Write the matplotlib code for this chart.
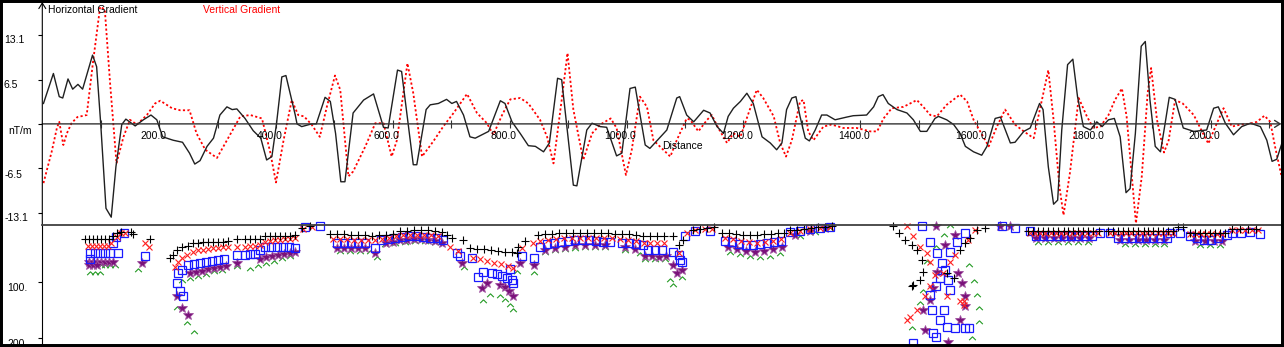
import numpy as np
import matplotlib.pyplot as plt
from matplotlib.path import Path
from matplotlib.patches import Rectangle

plt.rcParams['font.family'] = ['Liberation Sans', 'DejaVu Sans']

# gradient profiles: (distance, nT/m)
hg = [(2,3.0),(19,7.4),(29,4.0),(35,3.8),(44,6.6),(52,5.1),(61,5.8),(69,5.1),(86,10.1),(93,8.4),(100,0.0),(109,-12.4),(118,-13.7),(126,-6.3),(136,-0.1),(143,0.7),(159,-0.3),(173,0.6),(186,1.3),(196,0.6),(206,-1.9),(224,-2.4),(240,-2.7),(252,-4.3),(261,-5.9),(270,-5.4),(282,-3.3),(293,-2.1),(304,1.3),(316,2.5),(325,2.1),(333,2.2),(347,0.8),(361,-1.0),(374,-2.1),(384,-5.3),(393,-4.8),(401,0.1),(410,6.9),(417,7.1),(433,1.3),(436,0.0),(444,-0.4),(461,0.0),(469,0.0),(484,3.9),(493,3.3),(502,-1.4),(511,-8.5),(518,-8.5),(532,1.6),(550,3.5),(567,4.4),(584,-0.5),(592,-0.6),(608,7.9),(615,7.7),(635,-6.0),(641,-6.0),(657,2.1),(664,2.8),(678,3.0),(692,3.6),(701,3.0),(709,3.3),(721,1.3),(732,-1.9),(741,-2.1),(764,-1.1),(784,3.4),(792,3.0),(804,0.3),(818,-1.4),(832,-3.2),(844,-3.3),(858,-4.1),(868,-2.8),(882,6.7),(889,6.5),(909,-9.0),(915,-9.1),(932,-0.9),(941,0.1),(955,-0.4),(966,-0.5),(983,-4.7),(992,-4.3),(1006,5.2),(1015,5.4),(1032,-3.1),(1040,-3.6),(1069,-0.9),(1086,3.8),(1091,4.0),(1103,1.3),(1115,0.3),(1132,2.0),(1143,1.6),(1155,-0.4),(1166,-1.4),(1174,1.1),(1183,2.3),(1195,3.3),(1206,4.5),(1217,3.0),(1232,-1.9),(1246,-2.8),(1257,-3.8),(1266,-2.8),(1274,2.1),(1283,3.8),(1290,4.0),(1297,1.1),(1306,-2.1),(1313,-2.5),(1323,-0.9),(1334,1.3),(1343,1.3),(1357,0.6),(1377,1.0),(1388,1.2),(1411,1.3),(1423,2.5),(1431,4.0),(1439,4.3),(1448,3.0),(1463,2.1),(1480,1.6),(1491,0.6),(1503,-1.1),(1514,-1.1),(1528,0.8),(1534,1.1),(1548,0.6),(1560,-0.1),(1571,-1.4),(1580,-3.3),(1594,-4.1),(1608,-4.6),(1617,-3.3),(1631,0.8),(1640,1.0),(1657,-2.8),(1665,-2.7),(1680,-1.1),(1691,-0.6),(1707,3.0),(1713,2.1),(1722,-6.3),(1731,-11.8),(1738,-11.2),(1745,-0.9),(1755,8.7),(1764,9.5),(1772,4.0),(1782,-0.4),(1794,-0.9),(1805,0.3),(1814,-0.4),(1825,0.6),(1835,0.8),(1845,-1.9),(1855,-10.1),(1862,-9.5),(1871,-1.4),(1881,11.4),(1888,12.1),(1896,3.5),(1905,-3.3),(1914,-4.1),(1922,0.1),(1929,3.9),(1939,3.6),(1953,-0.6),(1971,-1.1),(1993,-0.9),(2005,2.3),(2013,2.5),(2025,0.1),(2039,-1.6),(2053,-0.4),(2068,0.1),(2085,-0.4),(2096,-2.4),(2105,-5.5),(2113,-5.2),(2122,-2.8)]

vg = [(2,-8.7),(16,-4.1),(25,-0.6),(29,0.3),(36,-3.1),(42,-1.4),(50,0.1),(60,1.0),(76,1.3),(87,9.2),(99,17.2),(107,16.8),(116,6.0),(127,-5.8),(139,-1.9),(150,0.6),(162,-0.1),(179,1.3),(193,3.0),(202,3.4),(222,2.3),(236,2.0),(252,2.0),(264,-1.4),(279,-3.8),(299,-5.0),(318,-2.1),(339,1.1),(356,1.3),(376,0.8),(390,-4.1),(400,-8.6),(413,-2.4),(427,3.5),(438,1.3),(448,1.1),(461,-0.1),(475,-1.9),(487,2.5),(501,7.1),(510,5.0),(524,-7.7),(532,-7.0),(553,-3.3),(570,0.1),(584,0.1),(598,-4.8),(607,-2.4),(625,8.9),(635,4.5),(650,-4.8),(669,-2.6),(687,-0.3),(704,1.6),(727,4.4),(744,1.6),(761,0.1),(772,-1.6),(787,1.3),(801,3.6),(818,3.8),(832,3.0),(852,0.6),(864,-1.9),(875,-5.8),(889,3.5),(899,10.4),(909,2.1),(926,-5.3),(941,-1.4),(955,-0.1),(973,0.8),(983,-0.6),(999,-7.5),(1009,-3.8),(1023,4.0),(1035,2.5),(1046,-2.4),(1063,-3.8),(1075,-4.8),(1086,-2.4),(1103,0.8),(1109,0.6),(1123,-1.1),(1138,0.6),(1146,1.3),(1157,-0.6),(1172,-2.8),(1183,-1.4),(1195,-1.9),(1209,1.6),(1223,5.0),(1234,3.8),(1252,1.1),(1263,-2.8),(1273,-4.8),(1283,-2.4),(1297,3.3),(1303,3.5),(1311,-1.1),(1320,-2.4),(1337,-0.4),(1351,-0.1),(1371,-0.6),(1394,-0.6),(1417,-1.1),(1429,-1.1),(1440,0.8),(1454,2.3),(1474,2.5),(1497,3.5),(1508,2.5),(1520,1.3),(1531,1.1),(1548,2.8),(1571,4.3),(1583,3.3),(1594,0.6),(1620,-3.3),(1634,-0.4),(1648,2.1),(1665,-0.1),(1680,-1.1),(1697,-2.1),(1711,3.5),(1722,7.9),(1731,0.6),(1741,-9.2),(1748,-13.4),(1759,-7.2),(1774,3.8),(1788,1.1),(1799,-0.6),(1811,-0.4),(1825,1.3),(1836,3.5),(1848,5.2),(1856,1.1),(1865,-7.7),(1872,-14.6),(1882,-7.7),(1892,4.5),(1898,8.2),(1908,0.6),(1920,-4.2),(1928,-2.4),(1939,3.5),(1952,3.0),(1971,1.3),(1985,-1.1),(1996,-2.9),(2008,-0.4),(2022,2.3),(2036,-0.4),(2051,-0.1),(2065,0.0),(2079,0.3),(2092,1.2),(2102,0.3),(2110,-3.3),(2122,-8.0)]

# depth solutions: (distance, depth)
plus_pts = [(73,23),(80,23),(87,23),(94,23),(100,23),(107,23),(114,23),(121,18),(128,12),(135,11),(152,11),(155,14),(184,23),
            (219,58),(224,52),(230,44),(239,38),(250,36),(258,30),(267,30),(275,29),(284,29),(292,28),(301,28),(309,28),(318,27),(333,24),(347,24),(355,24),(364,24),(373,24),(381,18),(390,18),(398,18),(407,18),(415,18),(424,18),(433,17),(444,4),(458,1),
            (493,14),(504,15),(516,15),(529,16),(541,17),(553,17),(565,18),(576,17),(588,16),(600,14),(612,10),(624,9),(636,8),(649,8),(660,8),(672,9),(684,11),(693,16),(701,21),(720,25),(732,39),(744,41),(756,42),(768,44),(780,45),(792,46),(804,47),(813,48),(815,37),(827,27),(849,16),(861,15),(873,14),(885,13),(897,13),(909,13),(921,13),(933,13),(945,13),(957,13),(968,13),(980,14),(993,14),(1004,15),(1016,16),
            (1028,19),(1040,19),(1052,19),(1064,19),(1080,19),(1089,34),(1097,25),(1114,7),(1126,6),(1138,4),(1150,2),(1164,12),(1176,13),(1188,15),(1200,16),(1212,16),(1224,16),(1236,15),(1248,14),(1260,13),(1270,12),(1280,8),(1292,7),(1304,5),(1316,4),(1328,2),(1340,2),(1352,1),
            (1457,0),(1466,13),(1477,25),(1488,34),(1497,43),(1506,61),(1508,82),(1503,96),(1491,105),(1488,108),(1548,84),(1560,93),(1571,43),(1580,30),(1588,21),(1600,7),(1614,4),
            (1688,10),(1696,10),(1705,10),(1713,10),(1722,10),(1730,10),(1739,10),(1748,10),(1756,10),(1765,10),(1773,10),(1782,10),(1790,10),(1799,10),(1808,10),(1825,9),(1833,9),(1842,9),(1850,9),(1859,9),(1867,9),(1876,9),(1885,9),(1893,9),(1902,9),(1910,9),(1919,9),(1927,9),(1936,9),(1944,2),(1953,2),(1965,12),(1973,12),(1982,12),(1990,12),(1999,12),(2007,12),(2016,12),(2025,12),(2037,6),(2050,6),(2064,6),(2078,6)]

cross_pts = [(78,36),(85,36),(92,36),(98,36),(105,36),(112,36),(118,30),(128,20),(135,13),(142,12),(176,31),(182,38),
             (227,73),(233,64),(239,58),(247,52),(258,46),(267,44),(275,43),(284,41),(292,40),(301,39),(309,38),(318,37),(333,37),(347,37),(355,36),(364,36),(373,35),(381,28),(390,27),(398,26),(407,25),(415,24),(424,23),(433,21),(446,6),(461,2),
             (498,23),(510,24),(522,24),(534,25),(546,26),(558,26),(570,25),(582,24),(594,22),(606,19),(618,17),(630,16),(642,16),(654,16),(666,17),(678,18),(698,38),(712,45),(737,57),(749,60),(761,63),(773,66),(785,69),(797,72),(806,75),(821,40),(840,30),(852,27),(866,25),(880,23),(893,22),(907,21),(921,21),(934,21),(948,21),(962,21),(975,22),(989,23),(1003,25),(1016,27),(1030,30),
             (1040,31),(1052,31),(1064,31),(1089,49),(1103,13),(1117,7),(1134,6),(1146,5),(1169,21),(1182,24),(1196,27),(1210,29),(1224,30),(1237,29),(1251,27),(1264,24),(1280,12),(1297,9),(1314,6),(1331,4),(1349,2),
             (1480,0),(1491,19),(1503,37),(1514,49),(1520,64),(1528,87),(1520,108),(1511,126),(1497,150),(1486,162),(1480,168),(1542,84),(1548,126),(1554,64),(1562,52),(1571,135),(1577,135),(1577,141),(1585,25),(1597,7),
             (1690,13),(1699,13),(1708,13),(1717,13),(1726,13),(1735,13),(1744,13),(1753,13),(1762,13),(1771,13),(1780,13),(1789,13),(1798,13),(1807,13),(1828,12),(1837,12),(1846,12),(1855,12),(1864,12),(1873,12),(1882,12),(1891,12),(1900,12),(1909,12),(1918,12),(1927,12),(1936,12),(1965,15),(1974,15),(1983,15),(1992,15),(2001,15),(2010,15),(2019,15),(2037,8),(2048,8),(2059,8),(2070,8),(2081,8)]

square_pts = [(82,48),(90,48),(98,48),(107,48),(116,48),(82,59),(121,30),(126,20),(130,48),(140,12),(176,54),
              (230,102),(236,117),(241,126),(233,84),(239,79),(249,70),(260,68),(270,66),(280,64),(290,62),(301,61),(311,59),(333,52),(347,52),(355,51),(364,50),(373,43),(381,38),(391,37),(402,37),(412,37),(422,38),(433,40),(450,2),(476,1),
              (505,31),(516,31),(529,31),(541,31),(553,31),(570,40),(580,25),(592,23),(604,21),(616,20),(628,19),(640,19),(652,20),(664,21),(676,22),(686,25),(710,49),(715,54),(735,58),(746,91),(755,83),(770,84),(779,86),(787,89),(796,93),(804,96),(806,102),(801,77),(821,54),(841,58),(852,37),(864,33),(876,30),(888,28),(900,27),(912,26),(924,26),(936,26),(948,27),(960,28),(972,29),(993,30),(1004,30),(1016,32),(1028,34),
              (1037,43),(1049,43),(1061,43),(1080,46),(1089,52),(1092,61),(1095,64),(1100,19),(1117,9),(1143,10),(1169,27),(1181,29),(1193,32),(1205,34),(1217,34),(1229,33),(1241,31),(1253,29),(1265,27),(1280,11),(1297,9),(1314,6),(1331,4),(1349,2),
              (1506,1),(1520,28),(1531,49),(1540,67),(1554,46),(1566,28),(1580,13),(1546,79),(1537,93),(1529,108),(1520,123),(1523,150),(1543,150),(1537,168),(1548,180),(1562,183),(1580,183),(1525,192),(1529,198),(1554,114),(1551,96),(1586,183),(1491,209),
              (1643,1),(1665,4),(1691,10),(1701,19),(1713,19),(1725,19),(1737,19),(1749,19),(1761,19),(1773,19),(1785,19),(1797,19),(1811,13),(1828,13),(1842,22),(1854,22),(1866,22),(1878,22),(1890,22),(1902,22),(1913,22),(1925,22),(1931,13),(1948,13),(1965,19),(1977,22),(1989,25),(2001,25),(2013,22),(2028,16),(2037,12),(2051,12),(2068,11),(2085,14)]

star_pts = [(80,64),(87,64),(94,64),(100,64),(107,64),(114,64),(121,64),(80,70),(87,70),(94,70),(171,66),
            (230,126),(239,147),(250,159),(253,84),(263,82),(273,80),(284,77),(294,75),(304,73),(315,71),(333,66),(373,59),(383,55),(393,53),(404,52),(414,50),(424,48),(433,46),
            (505,40),(516,40),(529,40),(541,40),(553,40),(570,48),(588,30),(600,28),(612,26),(624,25),(636,24),(649,24),(660,25),(672,27),(684,30),(718,67),(752,111),(761,102),(784,105),(792,110),(799,117),(806,126),(818,67),(841,70),(861,43),(878,40),(895,37),(912,35),(929,34),(946,34),(963,35),(998,38),(1015,41),
            (1032,54),(1044,54),(1056,55),(1068,54),(1080,70),(1086,84),(1095,79),(1174,38),(1189,42),(1205,45),(1220,46),(1236,45),(1251,42),(1266,38),(1289,17),(1314,9),(1340,4),
            (1529,0),(1546,34),(1562,16),(1531,82),(1568,84),(1574,102),(1580,144),(1571,168),(1511,186),(1551,207),(1520,132),(1508,150),(1525,111),(1580,125),
            (1640,0),(1657,1),(1701,22),(1716,22),(1731,22),(1746,22),(1761,22),(1776,22),(1791,22),(1845,26),(1860,26),(1875,26),(1890,26),(1905,26),(1920,26),(1973,27),(1990,27),(2005,27),(2020,27)]

caret_pts = [(82,84),(90,84),(98,84),(100,71),(108,71),(116,71),(124,71),(164,79),
             (230,146),(247,173),(259,189),(239,99),(253,95),(267,91),(280,87),(294,83),(308,80),(333,73),(355,77),(369,72),(383,68),(397,64),(411,59),(424,55),
             (510,46),(527,46),(544,46),(561,46),(573,58),(586,34),(604,32),(621,30),(638,29),(655,29),(672,30),(721,76),(755,135),(766,123),(784,126),(792,132),(801,141),(806,150),(812,82),(841,84),(861,48),(878,45),(895,43),(912,41),(929,39),(946,39),(963,40),(998,45),(1023,50),
             (1032,61),(1049,61),(1066,61),(1075,96),(1080,105),(1095,93),(1177,48),(1194,52),(1212,55),(1229,57),(1246,55),(1263,50),(1297,20),(1323,12),(1349,5),
             (1554,0),(1543,16),(1529,37),(1514,64),(1508,117),(1503,138),(1489,183),(1586,70),(1594,99),(1600,123),(1603,147),(1603,171),(1591,201),
             (1705,30),(1722,30),(1739,30),(1756,30),(1773,30),(1790,30),(1854,34),(1870,34),(1887,34),(1904,34),(1920,34),(1982,36),(1999,36),(2016,36)]

xtick_minor = [100, 300, 500, 700, 900, 1100, 1300, 1500, 1700, 1900, 2100]
xtick_major = [200, 400, 600, 800, 1000, 1200, 1400, 1600, 1800, 2000]
ytick_top = [13.1, 6.5, 0, -6.5, -13.1]
ytick_top_lbl = ['13.1', '6.5', 'nT/m', '-6.5', '-13.1']

W, H = 1284, 347
fig = plt.figure(figsize=(W / 100, H / 100), dpi=100)
fs = 7.5


def box(x0, y0, x1, y1):
    return [x0 / W, 1 - y1 / H, (x1 - x0) / W, (y1 - y0) / H]


def ptext(x, y, s, **kw):
    fig.text(x / W, 1 - y / H, s, fontsize=fs, va='center', **kw)


ax = fig.add_axes(box(42.3, 2, 1282, 225))
ax.set_xlim(0, 2122)
ax.set_ylim(-14.85, 17.9)
for s in ['top', 'right', 'bottom', 'left']:
    ax.spines[s].set_visible(False)
ax.set_xticks([])
ax.set_yticks(ytick_top)
ax.set_yticklabels([])
ax.tick_params(axis='y', direction='out', length=3, width=0.8)

ax.annotate('', xy=(2121, 0), xytext=(0, 0),
            arrowprops=dict(arrowstyle='->,head_length=0.4,head_width=0.25', color='#333333', lw=1.0, shrinkA=0, shrinkB=0))
ax.annotate('', xy=(0, 17.9), xytext=(0, -14.85), annotation_clip=False,
            arrowprops=dict(arrowstyle='->,head_length=0.4,head_width=0.25', color='black', lw=0.8, shrinkA=0, shrinkB=0))
ax.vlines(xtick_minor + xtick_major, -0.6, 0.6, color='#333333', lw=0.8)
for t in xtick_major:
    ax.annotate('%.1f' % t, xy=(t, 0), xytext=(-6, -12), textcoords='offset pixels',
                ha='center', va='center', fontsize=fs)

hx, hy = np.array(hg).T
vx, vy = np.array(vg).T
ax.plot(vx, vy, color='#ff0000', lw=1.3, ls=(0, (1.2, 1.3)))
ax.plot(hx, hy, color='#202020', lw=1.0)

ptext(47.7, 10, 'Horizontal Gradient', color='black')
ptext(203, 10, 'Vertical Gradient', color='#ff0000')
ptext(682, 146, 'Distance', ha='center')
ylbl_px = [(4, 40), (4, 85), (8, 131), (5, 175), (5, 218)]
for (x, y), s in zip(ylbl_px, ytick_top_lbl):
    ptext(x, y, s)

ax2 = fig.add_axes(box(42.3, 225, 1282, 345))
ax2.set_xlim(0, 2122)
ax2.set_ylim(212.8, -1.5)
for s in ['right', 'bottom']:
    ax2.spines[s].set_visible(False)
ax2.spines['top'].set_color('#404040')
ax2.spines['top'].set_linewidth(1.3)
ax2.spines['left'].set_linewidth(0.8)
ax2.set_xticks([])
ax2.set_yticks([100, 200])
ax2.set_yticklabels([])
ax2.tick_params(axis='y', direction='out', length=3, width=0.8)
ptext(7, 288, '100.')
ptext(7, 344, '200.')

caret = Path([(-1, -0.5), (0, 0.5), (1, -0.5)], [Path.MOVETO, Path.LINETO, Path.LINETO])

px, py = np.array(caret_pts).T
ax2.plot(px, py, ls='none', marker=caret, ms=4.8, mfc='none', mec='#229922', mew=0.8, clip_on=False)
px, py = np.array(star_pts).T
ax2.plot(px, py, ls='none', marker='*', ms=7, mfc='#7a127a', mec='#a050a0', mew=0.6, clip_on=False)
px, py = np.array(square_pts).T
ax2.plot(px, py, ls='none', marker='s', ms=5.2, mfc='none', mec='#1a1aff', mew=0.9, clip_on=False)
px, py = np.array(cross_pts).T
ax2.plot(px, py, ls='none', marker='x', ms=4.4, mec='#ff2020', mew=0.8, clip_on=False)
px, py = np.array(plus_pts).T
ax2.plot(px, py, ls='none', marker='+', ms=5.2, mec='black', mew=0.8, clip_on=False)

fig.add_artist(Rectangle((0, 0), 1, 1, transform=fig.transFigure, fill=False,
                         ec='black', lw=4.3, zorder=10))

fig.savefig('out.png', dpi=100)
